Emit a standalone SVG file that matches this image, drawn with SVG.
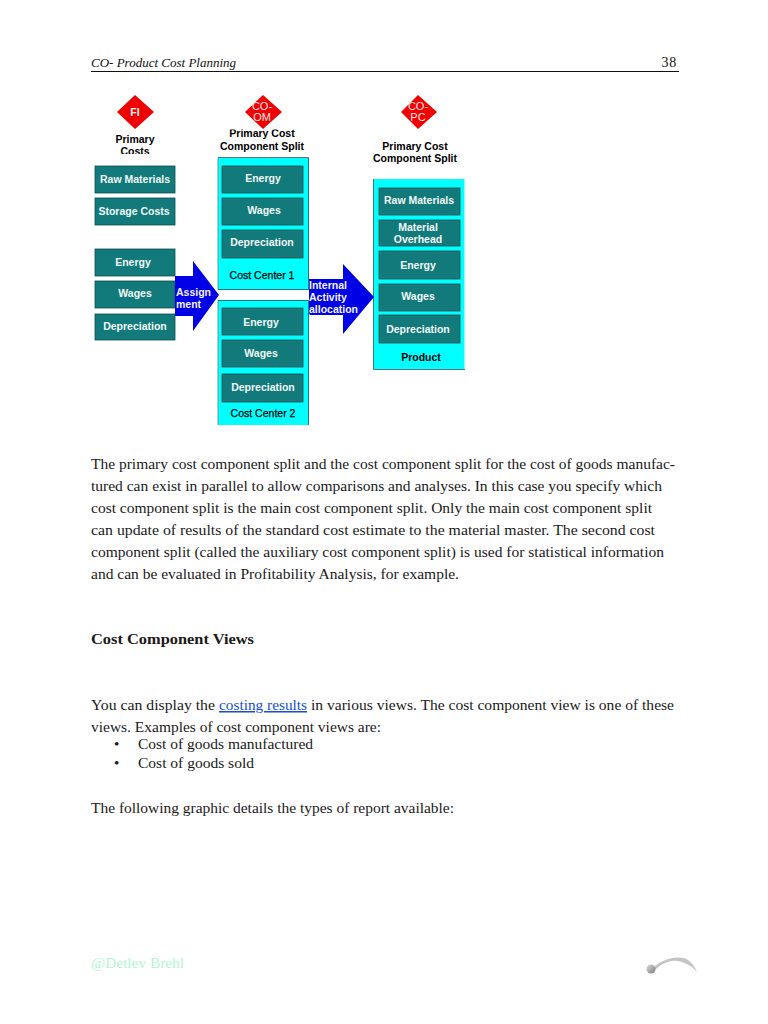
<svg xmlns="http://www.w3.org/2000/svg" width="768" height="1024" viewBox="0 0 768 1024">
<defs>
<linearGradient id="ball" x1="0" y1="0" x2="1" y2="1"><stop offset="0" stop-color="#e0e0e0"/><stop offset="1" stop-color="#777"/></linearGradient>
<clipPath id="clipCosts"><rect x="90" y="130" width="90" height="24"/></clipPath>
<clipPath id="clipOm"><rect x="210" y="129.500" width="110" height="25"/></clipPath>
</defs>
<style>
.body{font-family:"Liberation Serif","Times New Roman",serif;font-size:15.2px;fill:#1a1a1a}
.lab{font-family:"Liberation Sans",Arial,sans-serif;font-size:10.5px;fill:#f2f8f8;text-anchor:middle;font-weight:bold}
.dl{font-family:"Liberation Sans",Arial,sans-serif;font-size:11px;fill:#ffe8e8;text-anchor:middle}
.cap{font-family:"Liberation Sans",Arial,sans-serif;font-size:10.5px;fill:#000;text-anchor:middle;font-weight:bold}
.ar{font-family:"Liberation Sans",Arial,sans-serif;font-size:10.5px;fill:#f4f4ff;font-weight:bold}
.box{fill:#127a7a;stroke:#0b4f4f;stroke-width:.8}
.panel{fill:#00ffff}
.edge{fill:none;stroke:#2a5560;stroke-width:.8}
.soft{fill:none;stroke:#5a9aa0;stroke-width:1}
.dia{fill:#f00000}
.arrow{fill:#0000e6}
</style>
<rect width="768" height="1024" fill="#fff"/>
<text x="91" y="67" style="font-family:'Liberation Serif',serif;font-size:13px;font-style:italic;fill:#111">CO- Product Cost Planning</text>
<text x="677" y="67" text-anchor="end" style="font-family:'Liberation Serif',serif;font-size:14px;fill:#111;letter-spacing:.8px">38</text>
<line x1="91" y1="71.500" x2="679" y2="71.500" stroke="#111" stroke-width="1"/>

<g id="fi"><path class="dia" d="M135 95L154 112L135 129L117 112Z"/><text class="lab" x="135" y="116">FI</text></g>
<g id="coom"><path class="dia" d="M263 95L282 112L263 129L245 112Z"/><text class="dl" x="262" y="110">CO-</text><text class="dl" x="262" y="121">OM</text></g>
<g id="copc"><path class="dia" d="M418 95L437 112L418 129L401 112Z"/><text class="dl" x="418" y="110">CO-</text><text class="dl" x="418" y="121">PC</text></g>

<g id="cap-primary-costs" clip-path="url(#clipCosts)"><text class="cap" x="135" y="143">Primary</text><text class="cap" x="135" y="155">Costs</text></g>
<g id="cap-om" clip-path="url(#clipOm)"><text class="cap" x="262" y="137">Primary Cost</text><text class="cap" x="262" y="150">Component Split</text></g>
<g id="cap-pc"><text class="cap" x="415" y="150">Primary Cost</text><text class="cap" x="415" y="162">Component Split</text></g>

<g id="raw1"><rect class="box" x="95" y="166" width="80" height="27"/><text class="lab" x="135" y="183">Raw Materials</text></g>
<g id="storage"><rect class="box" x="95" y="198" width="80" height="27"/><text class="lab" x="134" y="215">Storage Costs</text></g>
<g id="energy1"><rect class="box" x="95" y="249" width="80" height="27"/><text class="lab" x="133" y="266">Energy</text></g>
<g id="wages1"><rect class="box" x="95" y="281" width="80" height="27"/><text class="lab" x="135" y="297">Wages</text></g>
<g id="dep1"><rect class="box" x="95" y="314" width="80" height="26"/><text class="lab" x="135" y="330">Depreciation</text></g>

<g id="cc1"><rect class="panel" x="218" y="158" width="91" height="132"/>
<path class="soft" d="M218 290V158"/><path class="edge" d="M218 157.500H308.500V289.500H218"/>
<rect class="box" x="222" y="166" width="81" height="27"/><text class="lab" x="263" y="182">Energy</text>
<rect class="box" x="222" y="198" width="81" height="27"/><text class="lab" x="264" y="214">Wages</text>
<rect class="box" x="222" y="230" width="81" height="28"/><text class="lab" x="262" y="246">Depreciation</text>
<text class="cap" x="262" y="279" style="font-weight:normal;stroke:#000;stroke-width:.25">Cost Center 1</text></g>
<g id="cc2"><rect class="panel" x="218" y="300" width="91" height="125"/>
<path class="soft" d="M218 425V300"/><path class="edge" d="M218 300.500H308.500V425"/>
<rect class="box" x="222" y="308" width="81" height="27"/><text class="lab" x="261" y="326">Energy</text>
<rect class="box" x="222" y="340" width="81" height="27"/><text class="lab" x="261" y="357">Wages</text>
<rect class="box" x="222" y="374" width="81" height="28"/><text class="lab" x="263" y="391">Depreciation</text>
<text class="cap" x="263" y="417" style="font-weight:normal;stroke:#000;stroke-width:.25">Cost Center 2</text></g>

<g id="product"><rect class="panel" x="373.500" y="179" width="91" height="190"/>
<path class="edge" d="M373.500 179V369.500H465"/>
<rect class="box" x="379" y="188" width="81" height="27"/><text class="lab" x="419" y="204">Raw Materials</text>
<rect class="box" x="379" y="220" width="81" height="26"/><text class="lab" x="418" y="231">Material</text><text class="lab" x="418" y="243">Overhead</text>
<rect class="box" x="379" y="251" width="81" height="28"/><text class="lab" x="418" y="269">Energy</text>
<rect class="box" x="379" y="284" width="81" height="27"/><text class="lab" x="418" y="300">Wages</text>
<rect class="box" x="379" y="315" width="81" height="28"/><text class="lab" x="418" y="333">Depreciation</text>
<text class="cap" x="421" y="361">Product</text></g>

<g id="connectors">
<path class="arrow" d="M175 276H193V261L219 295L193 331V316H175Z"/>
<path class="arrow" d="M309 279H343V264L374 297L343 334V315H311Q309 315 309 313Z"/>
<text class="ar" x="176" y="296">Assign</text>
<text class="ar" x="176" y="308">ment</text>
<text class="ar" x="309" y="289">Internal</text>
<text class="ar" x="309" y="301">Activity</text>
<text class="ar" x="309" y="313">allocation</text>
</g>

<g id="page-text">
<text class="body" x="91" y="469" textLength="584" lengthAdjust="spacingAndGlyphs">The primary cost component split and the cost component split for the cost of goods manufac-</text>
<text class="body" x="91" y="491" textLength="571" lengthAdjust="spacingAndGlyphs">tured can exist in parallel to allow comparisons and analyses. In this case you specify which</text>
<text class="body" x="91" y="513" textLength="561" lengthAdjust="spacingAndGlyphs">cost component split is the main cost component split. Only the main cost component split</text>
<text class="body" x="91" y="535" textLength="564" lengthAdjust="spacingAndGlyphs">can update of results of the standard cost estimate to the material master. The second cost</text>
<text class="body" x="91" y="557" textLength="573" lengthAdjust="spacingAndGlyphs">component split (called the auxiliary cost component split) is used for statistical information</text>
<text class="body" x="91" y="579" textLength="368" lengthAdjust="spacingAndGlyphs">and can be evaluated in Profitability Analysis, for example.</text>
<text class="body" x="91" y="644" style="font-weight:bold" textLength="163" lengthAdjust="spacingAndGlyphs">Cost Component Views</text>
<text class="body" x="91" y="710" textLength="124" lengthAdjust="spacingAndGlyphs">You can display the</text>
<text class="body" x="219" y="710" style="fill:#1450d8" text-decoration="underline" textLength="88" lengthAdjust="spacingAndGlyphs">costing results</text>
<text class="body" x="311" y="710" textLength="363" lengthAdjust="spacingAndGlyphs">in various views. The cost component view is one of these</text>
<text class="body" x="91" y="732" textLength="290" lengthAdjust="spacingAndGlyphs">views. Examples of cost component views are:</text>
<text class="body" x="114" y="749">•</text><text class="body" x="138" y="749" textLength="175" lengthAdjust="spacingAndGlyphs">Cost of goods manufactured</text>
<text class="body" x="114" y="768">•</text><text class="body" x="138" y="768" textLength="116" lengthAdjust="spacingAndGlyphs">Cost of goods sold</text>
<text class="body" x="91" y="813" textLength="363" lengthAdjust="spacingAndGlyphs">The following graphic details the types of report available:</text>
<text x="91" y="968" textLength="93" lengthAdjust="spacingAndGlyphs" style="font-family:'Liberation Serif',serif;font-size:15px;fill:#b5f5d5">@Detlev Brehl</text>
</g>
<g id="logo">
<path d="M655 966C665 958 680 955 688 960C692 963 695 967 697 972C690 964 680 960 672 961C665 962 660 965 655 970Z" fill="#c4c4c4"/>
<circle cx="651" cy="969" r="4.500" fill="url(#ball)"/>
</g>
</svg>
